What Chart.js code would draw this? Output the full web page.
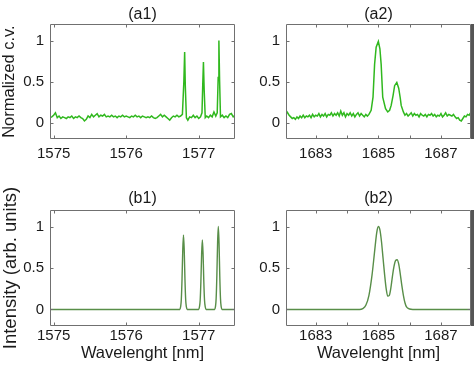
<!DOCTYPE html>
<html><head><meta charset="utf-8">
<script src="https://cdn.jsdelivr.net/npm/chart.js@4.4.1/dist/chart.umd.min.js"></script>
<style>
html,body{margin:0;padding:0;background:#fff;width:474px;height:370px;overflow:hidden}
canvas{position:absolute}
</style></head><body>
<canvas id="a1" width="237" height="185" style="left:0px;top:0px"></canvas>
<canvas id="a2" width="237" height="185" style="left:237px;top:0px"></canvas>
<canvas id="b1" width="237" height="185" style="left:0px;top:185px"></canvas>
<canvas id="b2" width="237" height="185" style="left:237px;top:185px"></canvas>
<script>
// ---------- data ----------
const panelTitles = ['(a1)', '(a2)', '(b1)', '(b2)'];
const yTitleTop = 'Normalized c.v.';
const yTitleBottom = 'Intensity (arb. units)';
const xTitleBottom = 'Wavelenght [nm]';

const yTickValues = [0, 0.5, 1];
const yTickLabels = ['0', '0.5', '1'];
const x1TickValues = [1575, 1576, 1577];
const x1TickLabels = ['1575', '1576', '1577'];
const x2TickValues = [1683, 1684, 1685, 1686, 1687];
const x2TickLabels = ['1683', '', '1685', '', '1687'];

const a1Wavelength = [1574.950,1574.975,1575.000,1575.025,1575.050,1575.075,1575.100,1575.125,1575.150,1575.175,
1575.200,1575.225,1575.250,1575.275,1575.300,1575.325,1575.350,1575.375,1575.400,1575.425,
1575.450,1575.475,1575.500,1575.525,1575.550,1575.575,1575.600,1575.625,1575.650,1575.675,
1575.700,1575.725,1575.750,1575.775,1575.800,1575.825,1575.850,1575.875,1575.900,1575.925,
1575.950,1575.975,1576.000,1576.025,1576.050,1576.075,1576.100,1576.125,1576.150,1576.175,
1576.200,1576.225,1576.250,1576.275,1576.300,1576.325,1576.350,1576.375,1576.400,1576.425,
1576.450,1576.475,1576.500,1576.525,1576.550,1576.575,1576.600,1576.625,1576.650,1576.675,
1576.700,1576.725,1576.750,1576.775,1576.795,1576.806,1576.815,1576.830,1576.850,1576.875,
1576.900,1576.925,1576.950,1576.975,1577.000,1577.025,1577.045,1577.055,1577.065,1577.075,
1577.090,1577.110,1577.135,1577.160,1577.185,1577.210,1577.235,1577.255,1577.268,1577.278,
1577.288,1577.300,1577.325,1577.350,1577.375,1577.400,1577.425,1577.450,1577.475,1577.500];
const a1Value = [0.06,0.07,0.09,0.12,0.06,0.08,0.05,0.07,0.06,0.05,
0.07,0.06,0.08,0.05,0.07,0.06,0.08,0.06,0.05,0.02,
0.04,0.08,0.06,0.10,0.07,0.09,0.11,0.07,0.09,0.08,
0.10,0.07,0.08,0.07,0.09,0.07,0.08,0.06,0.08,0.07,
0.09,0.07,0.08,0.07,0.06,0.08,0.07,0.09,0.07,0.08,
0.06,0.08,0.07,0.06,0.07,0.06,0.08,0.06,0.05,0.06,
0.08,0.10,0.07,0.09,0.07,0.05,0.03,0.06,0.08,0.07,
0.09,0.07,0.08,0.10,0.50,0.86,0.45,0.06,0.03,0.07,
0.06,0.09,0.06,0.08,0.05,0.07,0.12,0.45,0.74,0.40,
0.06,0.08,0.06,0.09,0.07,0.13,0.08,0.12,0.55,1.00,
0.50,0.07,0.09,0.06,0.08,0.06,0.10,0.11,0.07,0.09];

const a2Wavelength = [1682.05,1682.10,1682.15,1682.20,1682.25,1682.30,1682.35,1682.40,1682.45,1682.50,
1682.55,1682.60,1682.65,1682.70,1682.75,1682.80,1682.85,1682.90,1682.95,1683.00,
1683.05,1683.10,1683.15,1683.20,1683.25,1683.30,1683.35,1683.40,1683.45,1683.50,
1683.55,1683.60,1683.65,1683.70,1683.75,1683.80,1683.85,1683.90,1683.95,1684.00,
1684.05,1684.10,1684.15,1684.20,1684.25,1684.30,1684.35,1684.40,1684.45,1684.50,
1684.55,1684.60,1684.65,1684.70,1684.77,1684.83,1684.88,1684.93,1685.00,1685.05,
1685.09,1685.14,1685.23,1685.30,1685.36,1685.41,1685.47,1685.52,1685.59,1685.65,
1685.70,1685.73,1685.80,1685.85,1685.90,1685.95,1686.00,1686.05,1686.10,1686.15,
1686.20,1686.25,1686.30,1686.35,1686.40,1686.45,1686.50,1686.55,1686.60,1686.65,
1686.70,1686.75,1686.80,1686.85,1686.90,1686.95,1687.00,1687.05,1687.10,1687.15,
1687.20,1687.25,1687.30,1687.35,1687.40,1687.45,1687.50,1687.55,1687.60,1687.65,
1687.70,1687.75,1687.80,1687.85,1687.90,1687.95];
const a2Value = [0.15,0.12,0.09,0.07,0.05,0.06,0.04,0.07,0.05,0.08,
0.06,0.09,0.06,0.08,0.07,0.09,0.06,0.10,0.07,0.09,
0.08,0.11,0.07,0.10,0.08,0.11,0.07,0.10,0.09,0.12,
0.08,0.11,0.09,0.12,0.08,0.14,0.09,0.12,0.07,0.11,
0.09,0.12,0.08,0.11,0.07,0.10,0.12,0.08,0.11,0.09,
0.07,0.10,0.08,0.10,0.15,0.31,0.71,0.92,0.99,0.90,
0.71,0.31,0.17,0.13,0.15,0.21,0.33,0.45,0.49,0.42,
0.30,0.21,0.13,0.09,0.11,0.08,0.10,0.12,0.08,0.11,
0.09,0.10,0.07,0.11,0.09,0.08,0.10,0.07,0.10,0.09,
0.11,0.08,0.10,0.07,0.09,0.08,0.11,0.07,0.09,0.12,
0.08,0.10,0.09,0.08,0.10,0.07,0.05,0.06,0.03,0.02,
0.05,0.08,0.07,0.10,0.09,0.12];

const b1Wavelength = [1574.95,1576.74,1576.75,1576.76,1576.77,1576.78,1576.79,1576.80,1576.81,1576.82,1576.83,1576.84,
1577.00,1577.01,1577.02,1577.03,1577.04,1577.05,1577.06,1577.07,1577.08,1577.09,1577.10,
1577.22,1577.23,1577.24,1577.25,1577.26,1577.27,1577.28,1577.29,1577.30,1577.31,1577.32,1577.50];
const b1Value = [0,0,0.03,0.12,0.37,0.72,0.90,0.72,0.37,0.12,0.03,0,
0,0.03,0.11,0.34,0.67,0.84,0.67,0.34,0.11,0.03,0,
0,0.03,0.13,0.41,0.80,1.00,0.80,0.41,0.13,0.03,0,0];

const b2Wavelength = [1682.05,1684.40,1684.50,1684.60,1684.70,1684.80,1684.85,1684.90,1684.95,1685.00,
1685.05,1685.10,1685.15,1685.20,1685.25,1685.30,1685.35,1685.40,1685.45,1685.50,
1685.55,1685.60,1685.65,1685.70,1685.75,1685.80,1685.85,1685.90,1686.00,1686.10,1687.95];
const b2Value = [0,0,0.01,0.05,0.17,0.42,0.59,0.77,0.93,1.00,
0.96,0.82,0.62,0.42,0.25,0.16,0.17,0.26,0.40,0.52,
0.59,0.60,0.55,0.43,0.29,0.17,0.08,0.03,0.005,0,0];

// ---------- drawing ----------
const FONT = "'Liberation Sans', Arial, Helvetica, sans-serif";
const TXT = '#1a1a1a';

const boxPlugin = {
  id: 'box',
  afterDatasetsDraw(chart, args, opts) {
    const {ctx, chartArea} = chart;
    const xs = chart.scales.x, ys = chart.scales.y;
    const L = Math.round(chartArea.left) + 0.5, R = Math.round(chartArea.right) - 0.5;
    const T = Math.round(chartArea.top) + 0.5, B = Math.round(chartArea.bottom) - 0.5;
    ctx.save();
    ctx.strokeStyle = '#707070';
    ctx.lineWidth = 1;
    ctx.beginPath();
    ctx.rect(L, T, R - L, B - T);
    const tl = 3;
    xs.ticks.forEach(t => {
      const p = Math.round(xs.getPixelForValue(t.value)) + 0.5;
      ctx.moveTo(p, B); ctx.lineTo(p, B - tl);
      ctx.moveTo(p, T); ctx.lineTo(p, T + tl);
    });
    ys.ticks.forEach(t => {
      const p = Math.round(ys.getPixelForValue(t.value)) + 0.5;
      ctx.moveTo(L, p); ctx.lineTo(L + tl, p);
      ctx.moveTo(R, p); ctx.lineTo(R - tl, p);
    });
    ctx.stroke();
    if (opts.rightBar) {
      ctx.fillStyle = '#555';
      ctx.fillRect(Math.round(chartArea.right), Math.round(chartArea.top), 3, Math.round(chartArea.bottom - chartArea.top));
    }
    ctx.restore();
  }
};

function panel(id, cfg) {
  const data = cfg.xs.map((w, i) => ({x: w, y: cfg.ys[i]}));
  return new Chart(document.getElementById(id), {
    type: 'line',
    data: {datasets: [{
      data, borderColor: cfg.color, borderWidth: cfg.lw, pointRadius: 0,
      tension: 0, cubicInterpolationMode: cfg.smooth ? 'monotone' : 'default', fill: false
    }]},
    plugins: [boxPlugin],
    options: {
      responsive: false, maintainAspectRatio: false, animation: false,
      events: [],
      layout: {padding: {left: 0, right: cfg.padRight, top: 0, bottom: 0}},
      plugins: {
        legend: {display: false}, tooltip: {enabled: false},
        title: {display: true, text: cfg.title, fullSize: false, color: TXT,
          font: {family: FONT, size: 16, weight: 'normal', lineHeight: 1.2},
          padding: {top: cfg.titleTop, bottom: cfg.titleBottom}},
        box: {rightBar: cfg.rightBar}
      },
      scales: {
        x: {
          type: 'linear', min: cfg.xmin, max: cfg.xmax,
          afterBuildTicks: s => { s.ticks = cfg.xTicks.map(v => ({value: v})); },
          afterFit: s => { s.height = cfg.xHeight; },
          grid: {display: false, drawTicks: false}, border: {display: false},
          ticks: {padding: cfg.xPad, color: TXT, autoSkip: false, maxRotation: 0,
            font: {family: FONT, size: 15, lineHeight: 1},
            callback: v => cfg.xLabels[cfg.xTicks.indexOf(v)]},
          title: {display: !!cfg.xTitle, text: cfg.xTitle || '', color: TXT,
            font: {family: FONT, size: 16.5, lineHeight: 1.2},
            padding: {top: 0, bottom: 7}}
        },
        y: {
          type: 'linear', min: -0.2, max: 1.2,
          afterBuildTicks: s => { s.ticks = yTickValues.map(v => ({value: v})); },
          afterFit: s => { s.width = cfg.yWidth; },
          grid: {display: false, drawTicks: false}, border: {display: false},
          ticks: {padding: 6, color: TXT, font: {family: FONT, size: 15, lineHeight: 1},
            callback: v => yTickLabels[yTickValues.indexOf(v)]},
          title: {display: !!cfg.yTitle, text: cfg.yTitle || '', color: TXT,
            font: {family: FONT, size: cfg.yTitleSize || 16.5, lineHeight: 1.2},
            padding: {top: 0, bottom: 0}}
        }
      }
    }
  });
}

const greenA = 'rgb(48,184,30)';
const greenB = 'rgb(88,142,72)';

panel('a1', {xs: a1Wavelength, ys: a1Value, color: greenA, lw: 1.5, smooth: false,
  title: panelTitles[0], titleTop: 4.5, titleBottom: 0.5,
  xmin: 1574.95, xmax: 1577.5, xTicks: x1TickValues, xLabels: x1TickLabels,
  xHeight: 46, xPad: 7, yWidth: 50, padRight: 2, yTitle: yTitleTop, rightBar: false});
panel('a2', {xs: a2Wavelength, ys: a2Value, color: greenA, lw: 1.5, smooth: false,
  title: panelTitles[1], titleTop: 4.5, titleBottom: 0.5,
  xmin: 1682.05, xmax: 1687.96, xTicks: x2TickValues, xLabels: x2TickLabels,
  xHeight: 46, xPad: 7, yWidth: 49, padRight: 3, rightBar: true});
panel('b1', {xs: b1Wavelength, ys: b1Value, color: greenB, lw: 1.4, smooth: true,
  title: panelTitles[2], titleTop: 3.5, titleBottom: 2.3,
  xmin: 1574.95, xmax: 1577.5, xTicks: x1TickValues, xLabels: x1TickLabels,
  xHeight: 44, xPad: 2, yWidth: 50, padRight: 2, yTitle: yTitleBottom, yTitleSize: 18.5,
  xTitle: xTitleBottom, rightBar: false});
panel('b2', {xs: b2Wavelength, ys: b2Value, color: greenB, lw: 1.4, smooth: true,
  title: panelTitles[3], titleTop: 3.5, titleBottom: 2.3,
  xmin: 1682.05, xmax: 1687.96, xTicks: x2TickValues, xLabels: x2TickLabels,
  xHeight: 44, xPad: 2, yWidth: 49, padRight: 3, xTitle: xTitleBottom, rightBar: true});
</script>
</body></html>
